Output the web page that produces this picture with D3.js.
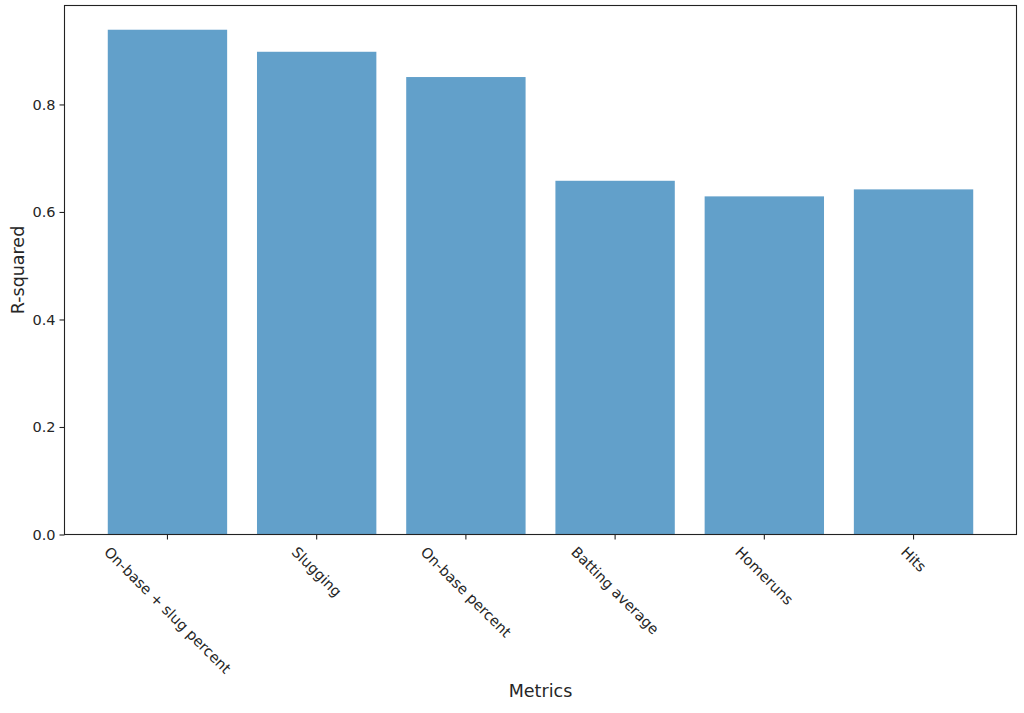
<!DOCTYPE html>
<html>
<head>
<meta charset="utf-8">
<script src="https://cdn.jsdelivr.net/npm/d3@7"></script>
<style>
  body { margin: 0; background: #fff; }
  text { font-family: "DejaVu Sans", sans-serif; fill: #262626; }
</style>
</head>
<body>
<div id="chart"></div>
<script>
// data
var metrics = ["On-base + slug percent", "Slugging", "On-base percent", "Batting average", "Homeruns", "Hits"];
var rSquared = [0.939, 0.898, 0.851, 0.658, 0.629, 0.642];
var yTicks = [0.0, 0.2, 0.4, 0.6, 0.8];

var chartSize = { width: 1024, height: 713, margin: { top: 5.5, right: 7.5, bottom: 178.5, left: 64.5 } };

var width = chartSize.width - chartSize.margin.left - chartSize.margin.right,
    height = chartSize.height - chartSize.margin.top - chartSize.margin.bottom;

var xScale = d3.scaleBand()
    .domain(metrics)
    .range([0, width])
    .paddingInner(0.2)
    .paddingOuter(0.29);

var yScale = d3.scaleLinear()
    .domain([0, d3.max(rSquared) * 1.048])
    .range([height, 0]);

var svg = d3.select("#chart")
    .append("svg")
    .attr("width", chartSize.width)
    .attr("height", chartSize.height);

var g = svg.append("g")
    .attr("transform", "translate(" + chartSize.margin.left + "," + chartSize.margin.top + ")");

// bars
g.selectAll("rect.bar")
    .data(metrics)
    .enter().append("rect")
    .attr("class", "bar")
    .attr("x", function(d) { return xScale(d); })
    .attr("width", xScale.bandwidth())
    .attr("y", function(d, i) { return yScale(rSquared[i]); })
    .attr("height", function(d, i) { return height - yScale(rSquared[i]); })
    .attr("fill", "#1f77b4")
    .attr("fill-opacity", 0.7);

// y axis
var yAxis = d3.axisLeft(yScale).tickValues(yTicks).tickFormat(d3.format(".1f")).tickSize(5).tickPadding(4);
var yg = g.append("g").call(yAxis);
yg.select(".domain").remove();
yg.selectAll("line").attr("stroke", "#222").attr("stroke-width", 1.1);
yg.selectAll("text").style("font-size", "14.5px").attr("fill", "#262626");

// x axis ticks
var xAxis = d3.axisBottom(xScale).tickSize(5).tickFormat("");
var xg = g.append("g").attr("transform", "translate(0," + height + ")").call(xAxis);
xg.select(".domain").remove();
xg.selectAll("line").attr("stroke", "#222").attr("stroke-width", 1.1);

// rotated x labels, bbox centred under tick
var fs = 14.5;
metrics.forEach(function(m) {
    var cx = xScale(m) + xScale.bandwidth() / 2;
    var t = g.append("text")
        .attr("text-anchor", "middle")
        .attr("dominant-baseline", "central")
        .style("font-size", fs + "px")
        .text(m);
    var L = t.node().getComputedTextLength();
    var bh = (L + fs * 1.15) * Math.SQRT1_2;
    var cy = height + 9 + bh / 2;
    t.attr("transform", "translate(" + cx + "," + cy + ") rotate(45)");
});

// frame
g.append("rect")
    .attr("width", width)
    .attr("height", height)
    .attr("fill", "none")
    .attr("stroke", "#222")
    .attr("stroke-width", 1.1);

// axis labels
svg.append("text")
    .attr("transform", "translate(24," + (chartSize.margin.top + height / 2) + ") rotate(-90)")
    .attr("text-anchor", "middle")
    .style("font-size", "17.5px")
    .text("R-squared");

svg.append("text")
    .attr("x", chartSize.margin.left + width / 2)
    .attr("y", 697)
    .attr("text-anchor", "middle")
    .style("font-size", "17.5px")
    .text("Metrics");
</script>
</body>
</html>
